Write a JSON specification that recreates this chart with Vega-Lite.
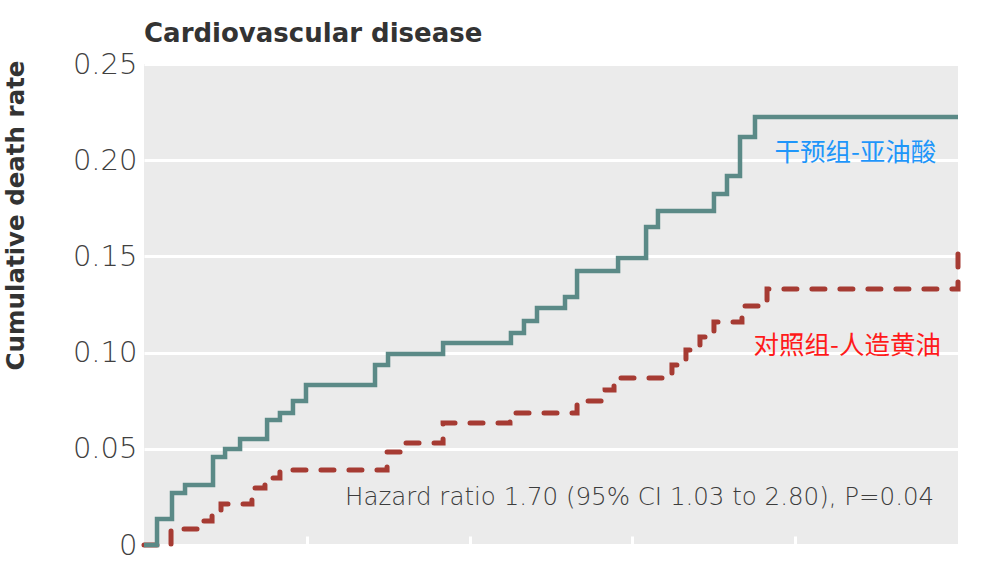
{
  "$schema": "https://vega.github.io/schema/vega-lite/v6.json",
  "width": 814,
  "height": 481,
  "autosize": {"type": "none"},
  "padding": {"left": 144, "top": 64, "right": 24, "bottom": 25},
  "background": "white",
  "view": {"fill": "#ebebeb", "stroke": null},
  "title": {
    "text": "Cardiovascular disease",
    "anchor": "start",
    "frame": "group",
    "font": "DejaVu Sans",
    "fontSize": 26,
    "fontWeight": "bold",
    "color": "#333333",
    "offset": 3
  },
  "datasets": {
    "km": [
      {"group": "Intervention", "year": 0.0, "rate": 0.0},
      {"group": "Intervention", "year": 0.080, "rate": 0.0135},
      {"group": "Intervention", "year": 0.172, "rate": 0.0270},
      {"group": "Intervention", "year": 0.252, "rate": 0.0312},
      {"group": "Intervention", "year": 0.424, "rate": 0.0457},
      {"group": "Intervention", "year": 0.498, "rate": 0.0499},
      {"group": "Intervention", "year": 0.590, "rate": 0.0551},
      {"group": "Intervention", "year": 0.756, "rate": 0.0650},
      {"group": "Intervention", "year": 0.835, "rate": 0.0686},
      {"group": "Intervention", "year": 0.915, "rate": 0.0748},
      {"group": "Intervention", "year": 0.995, "rate": 0.0832},
      {"group": "Intervention", "year": 1.419, "rate": 0.0936},
      {"group": "Intervention", "year": 1.499, "rate": 0.0993},
      {"group": "Intervention", "year": 1.837, "rate": 0.1050},
      {"group": "Intervention", "year": 2.254, "rate": 0.1102},
      {"group": "Intervention", "year": 2.334, "rate": 0.1164},
      {"group": "Intervention", "year": 2.414, "rate": 0.1232},
      {"group": "Intervention", "year": 2.586, "rate": 0.1289},
      {"group": "Intervention", "year": 2.660, "rate": 0.1424},
      {"group": "Intervention", "year": 2.912, "rate": 0.1492},
      {"group": "Intervention", "year": 3.084, "rate": 0.1653},
      {"group": "Intervention", "year": 3.157, "rate": 0.1736},
      {"group": "Intervention", "year": 3.501, "rate": 0.1824},
      {"group": "Intervention", "year": 3.581, "rate": 0.1918},
      {"group": "Intervention", "year": 3.661, "rate": 0.2121},
      {"group": "Intervention", "year": 3.753, "rate": 0.2225},
      {"group": "Intervention", "year": 5.0, "rate": 0.2225},
      {"group": "Control", "year": 0.0, "rate": 0.0},
      {"group": "Control", "year": 0.166, "rate": 0.0083},
      {"group": "Control", "year": 0.344, "rate": 0.0125},
      {"group": "Control", "year": 0.418, "rate": 0.0166},
      {"group": "Control", "year": 0.473, "rate": 0.0213},
      {"group": "Control", "year": 0.663, "rate": 0.0296},
      {"group": "Control", "year": 0.743, "rate": 0.0348},
      {"group": "Control", "year": 0.835, "rate": 0.0390},
      {"group": "Control", "year": 1.493, "rate": 0.0483},
      {"group": "Control", "year": 1.585, "rate": 0.0530},
      {"group": "Control", "year": 1.837, "rate": 0.0634},
      {"group": "Control", "year": 2.248, "rate": 0.0686},
      {"group": "Control", "year": 2.660, "rate": 0.0748},
      {"group": "Control", "year": 2.832, "rate": 0.0806},
      {"group": "Control", "year": 2.887, "rate": 0.0868},
      {"group": "Control", "year": 3.243, "rate": 0.0936},
      {"group": "Control", "year": 3.329, "rate": 0.1014},
      {"group": "Control", "year": 3.415, "rate": 0.1081},
      {"group": "Control", "year": 3.501, "rate": 0.1159},
      {"group": "Control", "year": 3.673, "rate": 0.1242},
      {"group": "Control", "year": 3.827, "rate": 0.1331},
      {"group": "Control", "year": 5.0, "rate": 0.1544}
    ]
  },
  "layer": [
    {
      "data": {"name": "km"},
      "transform": [{"filter": "datum.group === 'Control'"}],
      "mark": {
        "type": "line",
        "interpolate": "step-after",
        "color": "#a63b33",
        "strokeWidth": 5,
        "strokeDash": [13, 15],
        "strokeCap": "round"
      },
      "encoding": {
        "x": {
          "field": "year",
          "type": "quantitative",
          "scale": {"domain": [0, 5], "nice": false, "zero": true},
          "axis": {
            "title": null,
            "values": [1, 2, 3, 4],
            "labels": false,
            "domain": false,
            "grid": false,
            "ticks": true,
            "tickColor": "white",
            "tickWidth": 3,
            "tickSize": -9
          }
        },
        "y": {
          "field": "rate",
          "type": "quantitative",
          "scale": {"domain": [0, 0.25], "nice": false},
          "axis": {
            "title": "Cumulative death rate",
            "titleFont": "DejaVu Sans",
            "titleFontSize": 24.5,
            "titleFontWeight": "bold",
            "titleColor": "#333333",
            "titleAngle": -90,
            "titleAnchor": "end",
            "titleAlign": "right",
            "titleBaseline": "middle",
            "titleX": -128,
            "titleY": -4,
            "values": [0, 0.05, 0.1, 0.15, 0.2, 0.25],
            "labelExpr": "datum.value === 0 ? '0' : format(datum.value, '.2f')",
            "labelFont": "DejaVu Sans",
            "labelFontSize": 29,
            "labelFontWeight": 200,
            "labelColor": "#404040",
            "labelPadding": 7,
            "ticks": false,
            "domain": false,
            "grid": true,
            "gridColor": "white",
            "gridWidth": 3
          }
        }
      }
    },
    {
      "data": {"name": "km"},
      "transform": [{"filter": "datum.group === 'Intervention'"}],
      "mark": {
        "type": "line",
        "interpolate": "step-after",
        "color": "#5b8a87",
        "strokeWidth": 4.5
      },
      "encoding": {
        "x": {"field": "year", "type": "quantitative"},
        "y": {"field": "rate", "type": "quantitative"}
      }
    },
    {
      "data": {"values": [{"label": "干预组-亚油酸", "year": 4.37, "rate": 0.2035}]},
      "mark": {
        "type": "text",
        "font": "Noto Sans CJK SC",
        "fontSize": 25.5,
        "color": "#1e96fa",
        "align": "center",
        "baseline": "middle"
      },
      "encoding": {
        "x": {"field": "year", "type": "quantitative"},
        "y": {"field": "rate", "type": "quantitative"},
        "text": {"field": "label"}
      }
    },
    {
      "data": {"values": [{"label": "对照组-人造黄油", "year": 4.32, "rate": 0.1035}]},
      "mark": {
        "type": "text",
        "font": "Noto Sans CJK SC",
        "fontSize": 25.5,
        "color": "#ff1a1a",
        "align": "center",
        "baseline": "middle"
      },
      "encoding": {
        "x": {"field": "year", "type": "quantitative"},
        "y": {"field": "rate", "type": "quantitative"},
        "text": {"field": "label"}
      }
    },
    {
      "data": {"values": [{"label": "Hazard ratio 1.70 (95% CI 1.03 to 2.80), P=0.04", "year": 1.235, "rate": 0.0244}]},
      "mark": {
        "type": "text",
        "font": "DejaVu Sans",
        "fontSize": 24.5,
        "fontWeight": 200,
        "color": "#3c3c3c",
        "align": "left",
        "baseline": "middle"
      },
      "encoding": {
        "x": {"field": "year", "type": "quantitative"},
        "y": {"field": "rate", "type": "quantitative"},
        "text": {"field": "label"}
      }
    }
  ]
}
